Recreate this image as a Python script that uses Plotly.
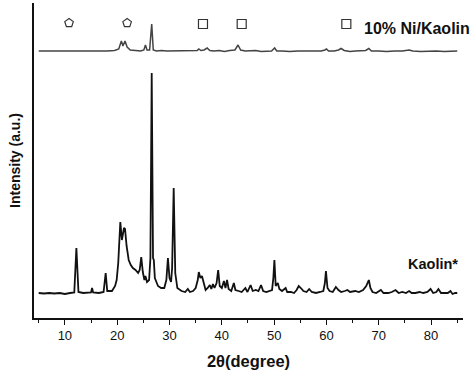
import plotly.graph_objects as go

# Kaolin* pattern (2theta, intensity a.u., offset baseline ~25)
kaolin_2theta = [5.0, 6.0, 7.0, 8.0, 9.0, 10.0, 11.0, 11.8, 12.2, 12.6, 13.5, 14.5, 15.0, 15.2, 15.4,
                 16.5, 17.4, 17.8, 18.1, 19.0, 19.6, 19.9, 20.2, 20.6, 20.9, 21.3, 21.5, 21.8, 22.2,
                 22.6, 23.0, 23.5, 24.0, 24.3, 24.6, 24.9, 25.2, 25.4, 25.7, 26.1, 26.35, 26.6, 26.85,
                 27.0, 27.2, 27.8, 28.4, 29.0, 29.4, 29.7, 30.0, 30.3, 30.5, 30.8, 31.1, 31.5, 32.3,
                 33.0, 33.5, 33.9, 34.5, 35.0, 35.4, 35.6, 35.9, 36.2, 36.5, 36.9, 37.3, 37.7, 38.0,
                 38.3, 38.6, 39.0, 39.3, 39.6, 40.0, 40.4, 40.7, 41.0, 41.3, 41.8, 42.3, 42.6, 43.2,
                 43.8, 44.5, 44.9, 45.5, 45.9, 46.5, 47.0, 47.5, 47.9, 48.5, 49.2, 49.6, 49.85, 50.05,
                 50.3, 50.7, 51.0, 51.5, 52.2, 52.5, 53.2, 53.8, 54.3, 54.7, 55.1, 55.6, 56.2, 56.7,
                 57.2, 58.0, 58.8, 59.4, 59.7, 59.9, 60.2, 60.6, 61.2, 61.8, 62.3, 62.8, 63.5, 64.0,
                 64.5, 65.5, 66.2, 67.0, 67.6, 68.1, 68.4, 68.8, 69.5, 70.4, 70.9, 71.8, 72.5, 73.2,
                 73.8, 74.5, 75.2, 75.8, 76.3, 77.0, 77.8, 78.5, 79.3, 79.9, 80.4, 81.0, 81.4, 81.9,
                 82.5, 83.2, 83.7, 84.1, 84.6, 85.0]
kaolin_intensity = [25, 24.5, 25, 24.5, 25, 24, 25, 25.5, 70, 26, 25, 25, 25.5, 30, 25.5,
                    25, 26, 45, 27, 27, 32, 38, 55, 96, 78, 90, 89, 72, 58,
                    53, 50, 48, 45, 48, 61, 46, 38, 42, 36, 38, 60, 245, 60,
                    58, 40, 32, 30, 30, 38, 60, 40, 36, 50, 130, 45, 30, 27,
                    26, 29, 26, 27, 30, 38, 46, 40, 42, 35, 28, 30, 33, 29,
                    34, 30, 35, 48, 32, 30, 37, 30, 38, 29, 27, 35, 28, 27,
                    26, 30, 26, 33, 27, 28, 27, 33, 27, 26, 27, 28, 40, 58,
                    32, 35, 29, 27, 30, 26, 26, 25, 28, 32, 30, 27, 26, 29,
                    26, 25, 26, 27, 35, 47, 30, 27, 26, 31, 28, 26, 27, 28,
                    26, 27, 26, 28, 32, 38, 30, 26, 25, 28, 25, 25, 26, 28,
                    25, 26, 25, 27, 25, 25, 26, 25, 26, 29, 25, 26, 29, 25,
                    25, 25, 27, 24, 25, 25]

# 10% Ni/Kaolin pattern (offset baseline ~267)
ni_2theta = [5.0, 8.0, 10.0, 12.0, 14.0, 16.0, 18.0, 19.5, 20.3, 20.8, 21.1, 21.5, 21.9, 22.5, 23.5,
             24.5, 25.1, 25.4, 25.7, 26.2, 26.6, 26.9, 27.5, 28.5, 29.5, 30.5, 31.5, 32.5, 33.5,
             34.5, 35.3, 35.6, 36.0, 36.6, 37.2, 37.7, 38.5, 39.5, 40.5, 41.5, 42.5, 43.1, 43.6,
             44.5, 45.5, 46.5, 47.5, 48.5, 49.5, 50.1, 50.5, 51.5, 53.0, 54.5, 56.0, 57.5, 59.0,
             59.7, 60.0, 60.4, 61.5, 62.3, 62.8, 63.4, 64.5, 65.5, 66.5, 67.5, 68.1, 68.6, 70.0,
             71.5, 73.0, 74.5, 75.8, 76.5, 78.0, 79.5, 81.0, 82.5, 84.0, 85.0]
ni_intensity = [267, 267, 266.5, 267, 267, 267, 267, 267.5, 269, 277, 272, 277, 271, 268, 267.5,
                267, 268, 273, 268, 268, 294, 268, 267, 267.5, 267, 267, 267.5, 267, 267,
                267, 267.5, 269, 267.5, 268, 270, 267.5, 267, 267.5, 266.5, 267.5, 268, 273, 268,
                267, 267, 267.5, 266.5, 267, 267, 270, 267, 267, 266.5, 267, 267, 267, 267,
                268, 269, 267, 267, 268, 269.5, 267.5, 266.5, 267, 267, 267.5, 269.5, 267, 267,
                266.5, 267, 267, 268, 267, 266.5, 267, 267, 266.5, 267, 267]

# phase markers
pentagon_2theta = [10.8, 21.9]
pentagon_y = [295, 295]
square_2theta = [36.4, 43.8, 63.8]
square_y = [294, 294, 294]

tick_vals = [10, 20, 30, 40, 50, 60, 70, 80]

FONT = "Liberation Sans, Arial, sans-serif"

fig = go.Figure()
fig.add_trace(go.Scatter(x=kaolin_2theta, y=kaolin_intensity, mode="lines",
                         line=dict(color="#111111", width=1.8), showlegend=False))
fig.add_trace(go.Scatter(x=ni_2theta, y=ni_intensity, mode="lines",
                         line=dict(color="#444444", width=1.5), showlegend=False))
fig.add_trace(go.Scatter(x=pentagon_2theta, y=pentagon_y, mode="markers",
                         marker=dict(symbol="pentagon-open", size=9, color="#333333",
                                     line=dict(width=1.2, color="#333333")), showlegend=False))
fig.add_trace(go.Scatter(x=square_2theta, y=square_y, mode="markers",
                         marker=dict(symbol="square-open", size=9, color="#333333",
                                     line=dict(width=1.2, color="#333333")), showlegend=False))

fig.add_annotation(x=1.021, y=290, xref="paper", yref="y", text="<b>10% Ni/Kaolin</b>",
                   showarrow=False, xanchor="right", yanchor="middle",
                   font=dict(family=FONT, size=16, color="#111111"))
fig.add_annotation(x=0.994, y=54, xref="paper", yref="y", text="<b>Kaolin*</b>",
                   showarrow=False, xanchor="right", yanchor="middle",
                   font=dict(family=FONT, size=14.5, color="#111111"))

fig.update_layout(
    width=474, height=374,
    margin=dict(l=34, r=11, t=3, b=56),
    paper_bgcolor="white", plot_bgcolor="white",
    font=dict(family=FONT, color="#111111"),
    xaxis=dict(range=[4.1, 86.1], tickvals=tick_vals, ticks="outside", ticklen=5,
               tickwidth=1.2, tickcolor="#111111", showline=True, linecolor="#111111",
               linewidth=1.5, showgrid=False, zeroline=False,
               tickfont=dict(family=FONT, size=13, color="#111111"),
               title=dict(text="<b>2θ(degree)</b>", font=dict(family=FONT, size=16.5), standoff=13),
               minor=dict(dtick=10, tick0=5, ticks="outside", ticklen=3, tickcolor="#111111",
                          tickwidth=1.2)),
    yaxis=dict(range=[0, 315], showticklabels=False, ticks="", showline=True,
               linecolor="#111111", linewidth=1.5, showgrid=False, zeroline=False,
               title=dict(text="<b>Intensity (a.u.)</b>", font=dict(family=FONT, size=14),
                          standoff=8)),
)

fig.write_html("out.html", config={"displayModeBar": False},
               post_script="document.body.style.margin='0';")
